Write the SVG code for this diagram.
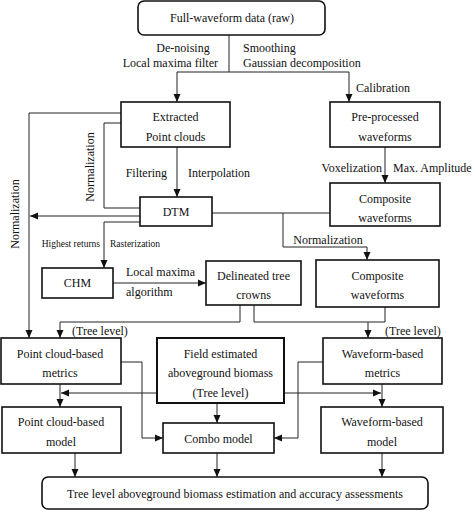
<svg xmlns="http://www.w3.org/2000/svg" width="474" height="511" viewBox="0 0 474 511">
<style>
text{font-family:"Liberation Serif","Times New Roman",serif;font-size:12px;fill:#111}
.c{text-anchor:middle}
.e{text-anchor:end}
.s{font-size:9.5px}
.box{fill:#fff;stroke:#111;stroke-width:1.6}
.ln{fill:none;stroke:#222;stroke-width:1}
.ar{fill:none;stroke:#222;stroke-width:1;marker-end:url(#ah)}
</style>
<defs>
<marker id="ah" markerUnits="userSpaceOnUse" markerWidth="8" markerHeight="8" refX="8" refY="4" orient="auto">
<path d="M0,0.5 L8,4 L0,7.5 z" fill="#111"/>
</marker>
</defs>
<rect width="474" height="511" fill="#fff"/>

<g id="connectors">
<path class="ln" d="M229,35 V72 M177,72 H349"/>
<path class="ar" d="M177,72 V102"/>
<path class="ar" d="M349,72 V102"/>
<path class="ar" d="M121,113 H29 V338"/>
<path class="ln" d="M121,123 H104 V208 H140"/>
<path class="ar" d="M140,216 H30"/>
<path class="ar" d="M140,222 H104 V268"/>
<path class="ar" d="M177,147 V197"/>
<path class="ar" d="M385,147 V183"/>
<path class="ln" d="M212,213 H330"/>
<path class="ar" d="M283,213 V247 H367 V260"/>
<path class="ar" d="M113,283 H206"/>
<path class="ar" d="M240,305 V322 H60 V338"/>
<path class="ln" d="M254,305 V322 H385 V307"/>
<path class="ar" d="M368,322 V338"/>
<path class="ar" d="M121,362 H142 V438 H163"/>
<path class="ar" d="M323,362 H298 V438 H274"/>
<path class="ar" d="M157,393 H61"/>
<path class="ar" d="M284,393 H381"/>
<path class="ar" d="M60,384 V407"/>
<path class="ar" d="M382,384 V407"/>
<path class="ar" d="M217,403 V423"/>
<path class="ar" d="M75,453 V477"/>
<path class="ar" d="M217,453 V477"/>
<path class="ar" d="M382,453 V477"/>
</g>

<g id="labels">
<text class="c" x="183" y="52">De-noising</text>
<text class="e" x="218" y="67">Local maxima filter</text>
<text x="243" y="52">Smoothing</text>
<text x="243" y="67">Gaussian decomposition</text>
<text x="356" y="92">Calibration</text>
<text class="e" x="167" y="177">Filtering</text>
<text x="188" y="177">Interpolation</text>
<text class="c" transform="translate(94,167) rotate(-90)">Normalization</text>
<text class="c" transform="translate(19,214) rotate(-90)">Normalization</text>
<text class="e" x="382" y="172">Voxelization</text>
<text x="393" y="172">Max. Amplitude</text>
<text class="c" x="328" y="244">Normalization</text>
<text class="e s" x="100" y="247">Highest returns</text>
<text class="s" x="110" y="247">Rasterization</text>
<text x="126" y="276">Local maxima</text>
<text x="126" y="296">algorithm</text>
<text x="72" y="335">(Tree level)</text>
<text x="385" y="335">(Tree level)</text>
</g>

<g id="raw">
<rect class="box" x="138" y="1" width="187" height="34" rx="6"/>
<text class="c" x="232" y="22">Full-waveform data (raw)</text>
</g>
<g id="extracted">
<rect class="box" x="121" y="102" width="109" height="45"/>
<text class="c" x="175.5" y="121">Extracted</text>
<text class="c" x="175.5" y="141">Point clouds</text>
</g>
<g id="preprocessed">
<rect class="box" x="330" y="102" width="110" height="45"/>
<text class="c" x="385" y="121">Pre-processed</text>
<text class="c" x="385" y="141">waveforms</text>
</g>
<g id="dtm">
<rect class="box" x="140" y="197" width="72" height="29"/>
<text class="c" x="176" y="216">DTM</text>
</g>
<g id="composite1">
<rect class="box" x="330" y="183" width="110" height="43"/>
<text class="c" x="385" y="203">Composite</text>
<text class="c" x="385" y="222">waveforms</text>
</g>
<g id="chm">
<rect class="box" x="42" y="268" width="71" height="30"/>
<text class="c" x="77.5" y="287">CHM</text>
</g>
<g id="crowns">
<rect class="box" x="206" y="261" width="95" height="44"/>
<text class="c" x="253.5" y="280">Delineated tree</text>
<text class="c" x="253.5" y="299">crowns</text>
</g>
<g id="composite2">
<rect class="box" x="316" y="260" width="123" height="47"/>
<text class="c" x="377.5" y="280">Composite</text>
<text class="c" x="377.5" y="299">waveforms</text>
</g>
<g id="pcmetrics">
<rect class="box" x="1" y="338" width="120" height="46"/>
<text class="c" x="60" y="358">Point cloud-based</text>
<text class="c" x="60" y="377">metrics</text>
</g>
<g id="field">
<rect class="box" x="157" y="338" width="127" height="65" style="stroke-width:2"/>
<text class="c" x="220.5" y="358">Field estimated</text>
<text class="c" x="220.5" y="377">aboveground biomass</text>
<text class="c" x="220.5" y="397">(Tree level)</text>
</g>
<g id="wfmetrics">
<rect class="box" x="323" y="338" width="119" height="46"/>
<text class="c" x="382.5" y="358">Waveform-based</text>
<text class="c" x="382.5" y="377">metrics</text>
</g>
<g id="pcmodel">
<rect class="box" x="2" y="407" width="119" height="46"/>
<text class="c" x="61" y="426">Point cloud-based</text>
<text class="c" x="61" y="446">model</text>
</g>
<g id="combo">
<rect class="box" x="163" y="423" width="111" height="30"/>
<text class="c" x="218.5" y="443">Combo model</text>
</g>
<g id="wfmodel">
<rect class="box" x="321" y="407" width="122" height="46"/>
<text class="c" x="382" y="426">Waveform-based</text>
<text class="c" x="382" y="446">model</text>
</g>
<g id="result">
<rect class="box" x="42" y="477" width="386" height="32" rx="6"/>
<text class="c" x="235" y="498">Tree level aboveground biomass estimation and accuracy assessments</text>
</g>
</svg>
